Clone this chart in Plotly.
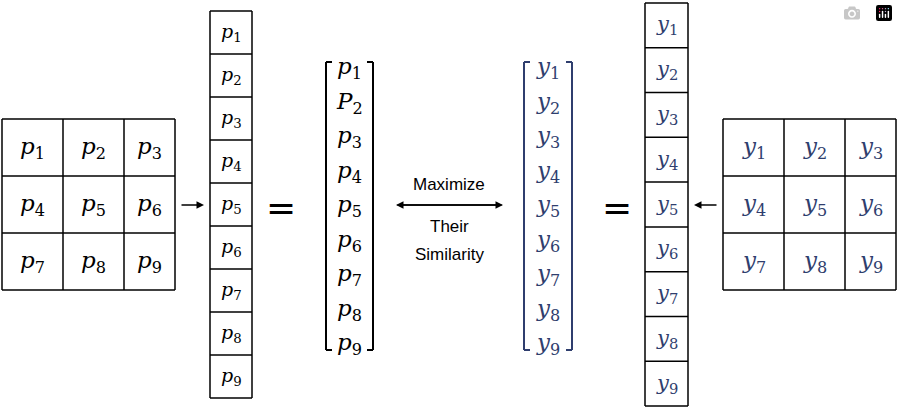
import plotly.graph_objects as go

p_vec = ["p","p","p","p","p","p","p","p","p"]
p_mat = ["p","P","p","p","p","p","p","p","p"]
y_sym = ["y"]*9
subs = ["1","2","3","4","5","6","7","8","9"]
middle_text = ["Maximize", "Their", "Similarity"]

BLUE = "#2f3e6e"
MF = "DejaVu Serif"
fig = go.Figure()
shapes, ann = [], []

def line(x0, y0, x1, y1, color="black", w=1.5):
    shapes.append(dict(type="line", x0=x0, y0=y0, x1=x1, y1=y1, line=dict(color=color, width=w)))

def sym(x, y, s, sub, color, size):
    ann.append(dict(x=x, y=y, text=f"<i>{s}</i><sub>{sub}</sub>", showarrow=False,
                    font=dict(family=MF, size=size, color=color), xanchor="center", yanchor="middle"))

def grid(xs, ys, syms, color):
    for x in xs: line(x, ys[0], x, ys[-1])
    for y in ys: line(xs[0], y, xs[-1], y)
    k = 0
    for r in range(3):
        for c in range(3):
            sym((xs[c]+xs[c+1])/2, (ys[r]+ys[r+1])/2, syms[k], subs[k], color, 23)
            k += 1

def column(x0, x1, y0, y1, syms, color, size):
    h = (y1 - y0) / 9
    for x in (x0, x1): line(x, y0, x, y1)
    for i in range(10): line(x0, y0+i*h, x1, y0+i*h)
    for i in range(9):
        sym((x0+x1)/2, y0+(i+0.5)*h, syms[i], subs[i], color, size)

def bracket(x0, x1, y0, y1, syms, color):
    for x, d in ((x0, 6), (x1, -6)):
        line(x, y0, x, y1, color, 2)
        line(x, y0, x+d, y0, color, 2)
        line(x, y1, x+d, y1, color, 2)
    step = (y1 - y0 - 12) / 8
    for i in range(9):
        sym((x0+x1)/2, y0+6+i*step, syms[i], subs[i], color, 23)

def arrow(x, y, ax, ay):
    ann.append(dict(x=x, y=y, ax=ax, ay=ay, xref="x", yref="y", axref="x", ayref="y",
                    showarrow=True, arrowhead=2, arrowsize=1, arrowwidth=1.5, arrowcolor="black", text=""))

grid([2, 63, 124, 175], [119, 176, 233, 290], ["p"]*9, "black")
column(210, 252, 11, 398, p_vec, "black", 19)
bracket(326, 373, 62, 350, p_mat, "black")
bracket(524, 572, 62, 350, y_sym, BLUE)
column(645, 688, 3, 406, y_sym, BLUE, 21)
grid([723, 784, 845, 896], [119, 176, 233, 290], y_sym, BLUE)

arrow(204, 205, 180, 205)
arrow(694, 205, 718, 205)
arrow(503, 205, 396, 205)
arrow(396, 205, 503, 205)

for x in (281, 617):
    ann.append(dict(x=x, y=207, text="=", showarrow=False, font=dict(family="DejaVu Sans", size=36, color="black")))
for t, y in zip(middle_text, [184, 226, 254]):
    ann.append(dict(x=449, y=y, text=t, showarrow=False, font=dict(family="Liberation Sans", size=17, color="black")))

fig.update_layout(width=898, height=411, margin=dict(l=0, r=0, t=0, b=0),
                  plot_bgcolor="white", paper_bgcolor="white", showlegend=False,
                  shapes=shapes, annotations=ann,
                  xaxis=dict(range=[0, 898], visible=False, fixedrange=True),
                  yaxis=dict(range=[411, 0], visible=False, fixedrange=True))
fig.write_html("out.html", post_script="document.body.style.margin='0';")
